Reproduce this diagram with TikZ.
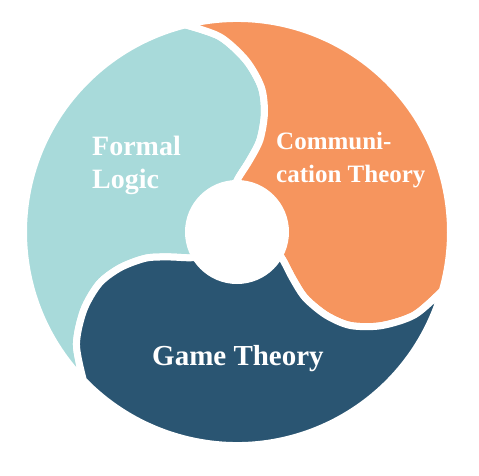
\documentclass[tikz,border=0pt]{standalone}
\usepackage{fontspec}
\setmainfont{Liberation Serif}
\definecolor{logicteal}{HTML}{A8DADA}
\definecolor{commorange}{HTML}{F6955E}
\definecolor{gameblue}{HTML}{2A5572}
\pgfmathsetmacro{\outerr}{213.5}
\pgfmathsetmacro{\holer}{52}
% one swirl piece, turned by #1 degrees
\newcommand{\petal}[1]{%
  ({#1+224}:\outerr) arc[start angle={#1+224}, end angle={#1+104}, radius=\outerr]
  -- plot[smooth] coordinates {({#1+104}:\outerr) ({#1+95}:196) ({#1+87}:172) ({#1+80.5}:147) ({#1+77}:122) ({#1+76}:95) ({#1+80}:73) ({#1+88}:55) ({#1+94}:45)}
  -- plot[smooth] coordinates {({#1+214}:45) ({#1+208}:55) ({#1+200}:73) ({#1+196}:95) ({#1+197}:122) ({#1+200.5}:147) ({#1+207}:172) ({#1+215}:196) ({#1+224}:\outerr)}
  -- cycle}
\tikzset{
  petal/.style={draw=white, line width=7pt, line join=round},
  petaltext/.style={text=white, inner sep=0pt, align=left, anchor=base west,
    font=\bfseries\fontsize{#1}{33}\selectfont},
}
\begin{document}
\begin{tikzpicture}[x=1pt,y=1pt]
\useasboundingbox (-237,-243) rectangle (242,232);
\filldraw[petal,fill=logicteal] \petal{0};
\filldraw[petal,fill=commorange] \petal{-120};
\filldraw[petal,fill=gameblue] \petal{120};
\fill[white] (0,0) circle[radius=\holer];
% base is the last line of a node
\node[petaltext=28] (logic) at (-145,44) {Formal\\Logic};
\node[petaltext=25] (comm) at (39,50) {Communi-\\cation Theory};
\node[petaltext=29] (game) at (-85,-133) {Game Theory};
\end{tikzpicture}
\end{document}
